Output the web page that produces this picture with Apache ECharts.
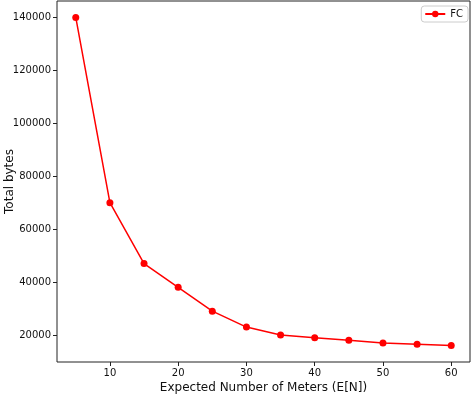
<!DOCTYPE html>
<html>
<head>
<meta charset="utf-8">
<script src="https://cdn.jsdelivr.net/npm/echarts@6/dist/echarts.min.js"></script>
<style>
  html, body { margin: 0; padding: 0; background: #fff; }
  #chart { width: 474px; height: 397px; }
</style>
</head>
<body>
<div id="chart"></div>
<script>
const meters = [5, 10, 15, 20, 25, 30, 35, 40, 45, 50, 55, 60]
const fcBytes = [140000, 70000, 47000, 38000, 29000, 23000, 20000, 19000, 18000, 17000, 16500, 16000]
const xTicks = [10, 20, 30, 40, 50, 60]
const yTicks = [20000, 40000, 60000, 80000, 100000, 120000, 140000]

const myChart = echarts.init(document.getElementById('chart'))

const tickText = {
    color: '#111',
    fontSize: 10,
    fontFamily: 'DejaVu Sans',
    formatter: (v) => String(v)
}

let option = {
    animation: false,
    legend: {
        top: 6,
        right: 6,
        data: ['FC'],
        itemWidth: 20,
        itemHeight: 8,
        itemGap: 4,
        padding: [3, 5, 3, 3],
        borderColor: '#ccc',
        borderWidth: 1,
        borderRadius: 3,
        backgroundColor: '#fff',
        textStyle: {
            color: '#111',
            fontSize: 10,
            fontFamily: 'DejaVu Sans'
        }
    },
    grid: {
        left: 57,
        top: 1,
        right: 4,
        bottom: 35,
        outerBoundsMode: 'none',
        containLabel: false,
        show: true,
        borderColor: '#222',
        borderWidth: 1
    },
    xAxis: {
        type: 'value',
        min: 2.25,
        max: 62.75,
        name: 'Expected Number of Meters (E[N])',
        nameLocation: 'middle',
        nameMoveOverlap: false,
        nameGap: 20,
        nameTextStyle: {
            color: '#111',
            fontSize: 12,
            fontFamily: 'DejaVu Sans'
        },
        axisLine: { show: false },
        splitLine: { show: false },
        axisTick: {
            show: true,
            inside: false,
            length: 4,
            customValues: xTicks,
            lineStyle: { color: '#222' }
        },
        axisLabel: Object.assign({
            margin: 6,
            customValues: xTicks
        }, tickText)
    },
    yAxis: {
        type: 'value',
        min: 9800,
        max: 146200,
        name: 'Total bytes',
        nameLocation: 'middle',
        nameMoveOverlap: false,
        nameGap: 41,
        nameTextStyle: {
            color: '#111',
            fontSize: 12,
            fontFamily: 'DejaVu Sans'
        },
        axisLine: { show: false },
        splitLine: { show: false },
        axisTick: {
            show: true,
            inside: false,
            length: 4,
            customValues: yTicks,
            lineStyle: { color: '#222' }
        },
        axisLabel: Object.assign({
            margin: 6,
            customValues: yTicks
        }, tickText)
    },
    series: [
        {
            name: 'FC',
            type: 'line',
            data: meters.map((m, i) => [m, fcBytes[i]]),
            symbol: 'circle',
            symbolSize: 7,
            lineStyle: { color: '#ff0000', width: 1.5 },
            itemStyle: { color: '#ff0000' }
        }
    ]
}

myChart.setOption(option)
</script>
</body>
</html>
